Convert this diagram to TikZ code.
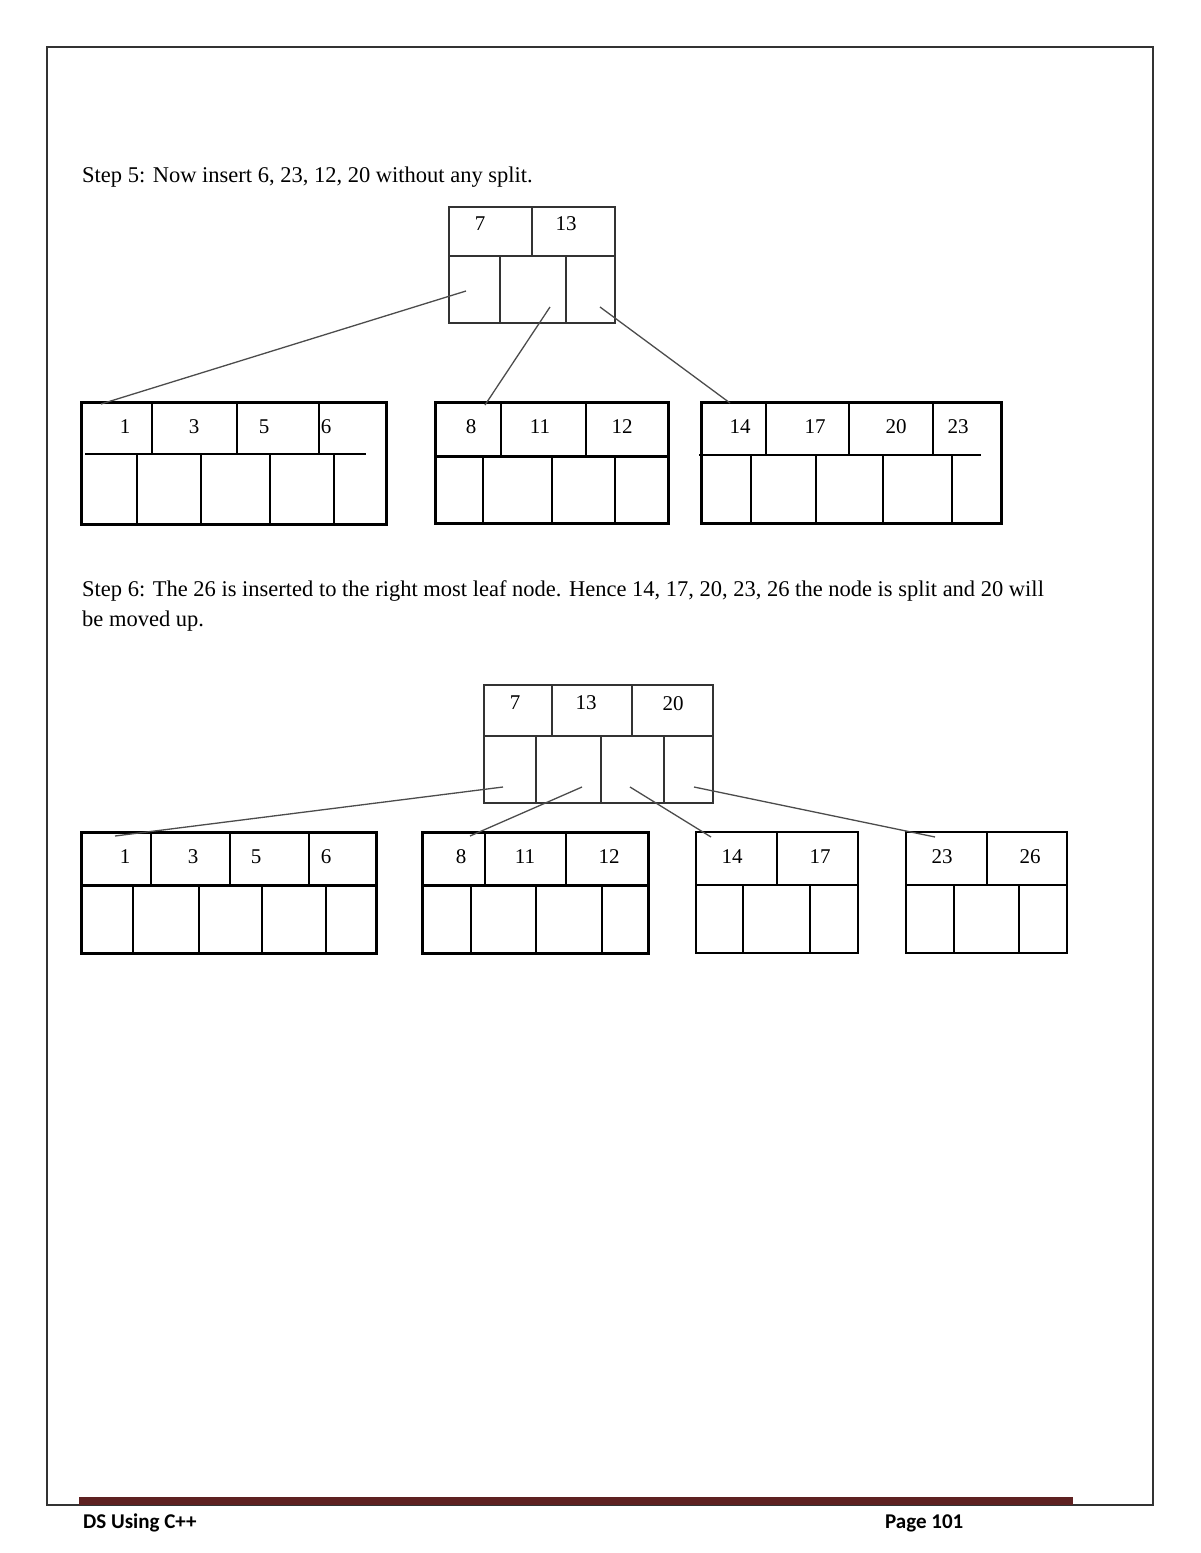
\documentclass[tikz,border=0pt]{standalone}
\usepackage{fontspec}
\setmainfont{Liberation Serif}
\newfontfamily\footfont{Carlito}
\definecolor{barred}{HTML}{5E2121}
\definecolor{inkgray}{HTML}{333333}
\begin{document}
\begin{tikzpicture}[x=1pt,y=-1pt,
  rootline/.style={line width=1.4pt,draw=inkgray},
  leafline/.style={line width=3pt,draw=black},
  leafthin/.style={line width=2.2pt,draw=black},
  sepline/.style={line width=1.4pt,draw=black},
  conn/.style={line width=1.3pt,draw=black!70},
  keytext/.style={font=\fontsize{21}{24}\selectfont,inner sep=0pt,anchor=center},
  bodytext/.style={font=\fontsize{22.5}{30}\selectfont,inner sep=0pt,anchor=base west},
  foottext/.style={font=\footfont\bfseries\fontsize{21}{24}\selectfont,inner sep=0pt,anchor=base west}]
\useasboundingbox (0,0) rectangle (1200,1553);
\fill[white] (0,0) rectangle (1200,1553);
% page frame and footer
\draw[line width=1.5pt,draw=inkgray] (47,1505) -- (47,47) -- (1153,47) -- (1153,1505) -- cycle;
\fill[barred] (79,1497) rectangle (1073,1505);
\node[foottext] (footl) at (83,1528) {DS Using C++};
\node[foottext] (footr) at (885,1528) {Page 101};

% ---------------- Step 5 ----------------
\node[bodytext] (s5) at (82,182) {Step 5: Now insert 6, 23, 12, 20 without any split.};
% root
\draw[rootline] (449,207) rectangle (615,323);
\draw[rootline] (449,256) -- (615,256);
\draw[rootline] (532,207) -- (532,256);
\draw[rootline] (500,256) -- (500,323);
\draw[rootline] (566,256) -- (566,323);
\node[keytext] (r5a) at (480,224) {7};
\node[keytext] (r5b) at (566,224) {13};
\coordinate (r5p1) at (466,291);
\coordinate (r5p2) at (550,307);
\coordinate (r5p3) at (600,307);
% leaf 1
\draw[leafline] (81,402) rectangle (386,524);
\draw[sepline] (85,454) -- (366,454);
\foreach \x in {152,237,319} \draw[line width=2.2pt] (\x,402) -- (\x,454);
\foreach \x in {137,201,270,334} \draw[line width=2.4pt] (\x,454) -- (\x,524);
\node[keytext] (l5a1) at (125,427) {1};
\node[keytext] (l5a2) at (194,427) {3};
\node[keytext] (l5a3) at (264,427) {5};
\node[keytext] (l5a4) at (326,427) {6};
\coordinate (l5at) at (101,404);
% leaf 2
\draw[leafline] (435,402) rectangle (668,523);
\draw[leafline] (435,456) -- (668,456);
\foreach \x in {501,586} \draw[line width=2.2pt] (\x,402) -- (\x,456);
\foreach \x in {483,552,615} \draw[line width=2.6pt] (\x,456) -- (\x,523);
\node[keytext] (l5b1) at (471,427) {8};
\node[keytext] (l5b2) at (540,427) {11};
\node[keytext] (l5b3) at (622,427) {12};
\coordinate (l5bt) at (485,405);
% leaf 3
\draw[leafline] (701,402) rectangle (1001,523);
\draw[sepline] (699,455) -- (981,455);
\foreach \x in {766,849,933} \draw[line width=2.2pt] (\x,402) -- (\x,455);
\foreach \x in {751,816,883,952} \draw[line width=2.4pt] (\x,455) -- (\x,523);
\node[keytext] (l5c1) at (740,427) {14};
\node[keytext] (l5c2) at (815,427) {17};
\node[keytext] (l5c3) at (896,427) {20};
\node[keytext] (l5c4) at (958,427) {23};
\coordinate (l5ct) at (730,403);
% connectors
\draw[conn] (r5p1) -- (l5at);
\draw[conn] (r5p2) -- (l5bt);
\draw[conn] (r5p3) -- (l5ct);

% ---------------- Step 6 ----------------
\node[bodytext] (s6) at (82,596) {Step 6: The 26 is inserted to the right most leaf node. Hence 14, 17, 20, 23, 26 the node is split and 20 will};
\node[bodytext] (s6b) at (82,626) {be moved up.};
% root
\draw[rootline] (484,685) rectangle (713,803);
\draw[rootline] (484,736) -- (713,736);
\foreach \x in {552,632} \draw[rootline] (\x,685) -- (\x,736);
\foreach \x in {536,601,664} \draw[rootline] (\x,736) -- (\x,803);
\node[keytext] (r6a) at (515,703) {7};
\node[keytext] (r6b) at (586,703) {13};
\node[keytext] (r6c) at (673,704) {20};
\coordinate (r6p1) at (503,787);
\coordinate (r6p2) at (582,787);
\coordinate (r6p3) at (630,787);
\coordinate (r6p4) at (694,787);
% leaf A
\draw[leafline] (81,832) rectangle (376,953);
\draw[leafline] (81,885) -- (376,885);
\foreach \x in {151,230,309} \draw[line width=2.4pt] (\x,832) -- (\x,885);
\foreach \x in {133,199,262,326} \draw[line width=2.4pt] (\x,885) -- (\x,953);
\node[keytext] (l6a1) at (125,857) {1};
\node[keytext] (l6a2) at (193,857) {3};
\node[keytext] (l6a3) at (256,857) {5};
\node[keytext] (l6a4) at (326,857) {6};
\coordinate (l6at) at (115,836);
% leaf B
\draw[leafline] (422,832) rectangle (648,953);
\draw[leafline] (422,885) -- (648,885);
\foreach \x in {485,566} \draw[line width=2.4pt] (\x,832) -- (\x,885);
\foreach \x in {471,536,602} \draw[line width=2.4pt] (\x,885) -- (\x,953);
\node[keytext] (l6b1) at (461,857) {8};
\node[keytext] (l6b2) at (525,857) {11};
\node[keytext] (l6b3) at (609,857) {12};
\coordinate (l6bt) at (470,836);
% leaf C
\draw[leafthin] (696,832) rectangle (858,953);
\draw[leafthin] (696,885) -- (858,885);
\draw[leafthin] (777,832) -- (777,885);
\foreach \x in {743,810} \draw[leafthin] (\x,885) -- (\x,953);
\node[keytext] (l6c1) at (732,857) {14};
\node[keytext] (l6c2) at (820,857) {17};
\coordinate (l6ct) at (711,837);
% leaf D
\draw[leafthin] (906,832) rectangle (1067,953);
\draw[leafthin] (906,885) -- (1067,885);
\draw[leafthin] (987,832) -- (987,885);
\foreach \x in {954,1019} \draw[leafthin] (\x,885) -- (\x,953);
\node[keytext] (l6d1) at (942,857) {23};
\node[keytext] (l6d2) at (1030,857) {26};
\coordinate (l6dt) at (935,837);
% connectors
\draw[conn] (r6p1) -- (l6at);
\draw[conn] (r6p2) -- (l6bt);
\draw[conn] (r6p3) -- (l6ct);
\draw[conn] (r6p4) -- (l6dt);
\end{tikzpicture}
\end{document}
